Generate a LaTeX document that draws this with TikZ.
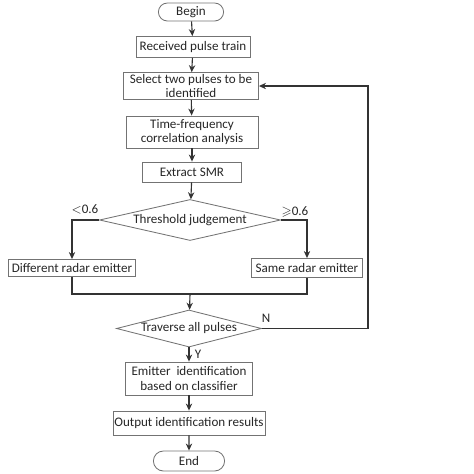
\documentclass[tikz,border=0pt]{standalone}
\usepackage{amsmath,amssymb}
\usepackage{fontspec}
\setmainfont{Carlito}
\usetikzlibrary{shapes.geometric,shapes.misc,arrows.meta}

\begin{document}
\begin{tikzpicture}[x=0.025cm,y=-0.025cm,
  font=\fontsize{9.3}{10.5}\selectfont, text=black!85,
  box/.style={draw=black!55,line width=0.6pt,rectangle,inner sep=1pt,align=center},
  term/.style={draw=black!55,line width=0.6pt,rounded rectangle,inner sep=1pt},
  decide/.style={draw=black!55,line width=0.6pt,diamond,aspect=4.4,inner sep=0pt},
  arr/.style={draw=black!80,line width=0.8pt,-{Stealth[length=5pt,width=4.5pt]}},
  line/.style={draw=black!80,line width=0.8pt}]
\useasboundingbox (0,0) rectangle (474,474);

\node[term,minimum width=1.7cm,minimum height=0.45cm] (begin) at (191,12) {Begin};
\node[box,minimum width=2.85cm,minimum height=0.525cm] (received) at (193,47) {Received pulse train};
\node[box,minimum width=3.375cm,minimum height=0.65cm] (select) at (191,86) {Select two pulses to be\\identified};
\node[box,minimum width=3.3cm,minimum height=0.8cm] (tfca) at (192,132) {Time-frequency\\correlation analysis};
\node[box,minimum width=2.475cm,minimum height=0.5cm] (smr) at (192,172) {Extract SMR};
\node[decide,minimum width=4.525cm,minimum height=1.025cm] (thresh) at (190,220) {Threshold judgement};
\node[box,minimum width=3.175cm,minimum height=0.425cm] (diff) at (72,268) {Different radar emitter};
\node[box,minimum width=2.775cm,minimum height=0.475cm] (same) at (307,268) {Same radar emitter};
\node[decide,minimum width=3.3cm,minimum height=0.925cm] (trav) at (189,328.5) {Traverse all pulses};
\node[box,minimum width=3.175cm,minimum height=0.825cm] (emit) at (189,378.5) {Emitter~ identification\\based on classifier};
\node[box,minimum width=3.8cm,minimum height=0.6cm] (output) at (189,423) {Output identification results};
\node[term,minimum width=1.85cm,minimum height=0.5cm] (end) at (189,461) {End};

\coordinate (merge) at (190,294);
\coordinate (loop) at (368,328.5);

% main flow
\draw[arr] (begin) -- (received);
\draw[arr] (received) -- (select);
\draw[arr] (select) -- (tfca);
\draw[arr] (tfca) -- (smr);
\draw[arr] (smr) -- (thresh);
\draw[arr] (thresh.west) -| (diff);
\draw[arr] (thresh.east) -| (same);
\draw[line] (diff.south) |- (merge) -| (same.south);
\draw[arr] (merge) -- (trav);
\draw[arr] (trav) -- (emit);
\draw[arr] (emit) -- (output);
\draw[arr] (output) -- (end);

% loop back
\draw[arr] (trav.east) -- (loop) |- (select.east);

% labels
\node (lt) at (85,209) {$<$0.6};
\node (ge) at (295,212) {$\geqslant$0.6};
\node (no) at (266,318) {N};
\node (yes) at (198,354) {Y};

\end{tikzpicture}
\end{document}
